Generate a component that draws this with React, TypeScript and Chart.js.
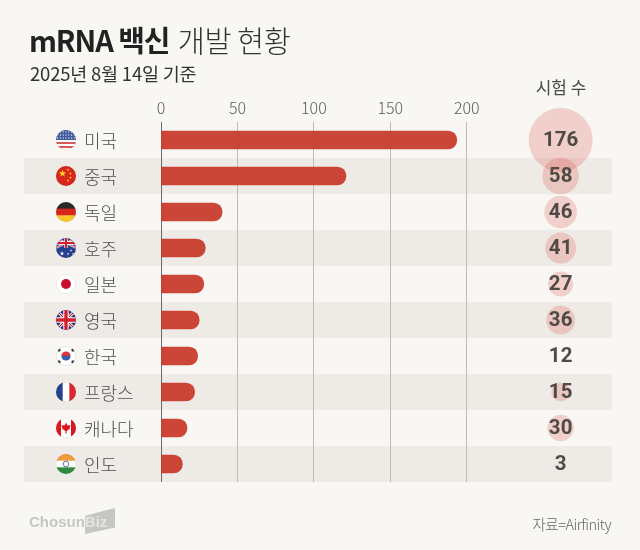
import { useEffect, useRef } from "react"
import Chart from "chart.js/auto"

const FONT = "'Noto Sans CJK KR', 'Noto Sans', sans-serif"
const BG = "#f8f7f3"
const BAND = "#eeebe7"
const BAR = "rgba(200,58,42,0.94)"
const BUBBLE = "rgba(222,80,70,0.24)"
const TEXT = "#4f4a46"

const countries = ["미국", "중국", "독일", "호주", "일본", "영국", "한국", "프랑스", "캐나다", "인도"]
const flags = ["us", "cn", "de", "au", "jp", "gb", "kr", "fr", "ca", "in"]
const barValues = [193.5, 121, 40, 29, 28, 25, 24, 22, 17, 14]
const trialCounts = [176, 58, 46, 41, 27, 36, 12, 15, 30, 3]

// the scale runs past 200 so the trial column can sit on it too
const AXIS_MAX = 295
const TRIAL_COLUMN = 261.4

function bubbleRadius(n: number) {
  return n <= 12 ? 0 : Math.sqrt(n) * 2.41
}

function stripesH(ctx: CanvasRenderingContext2D, x: number, y: number, r: number, cols: string[]) {
  const h = (2 * r) / cols.length
  cols.forEach((c, i) => {
    ctx.fillStyle = c
    ctx.fillRect(x - r, y - r + i * h, 2 * r, h + 0.5)
  })
}

function stripesV(ctx: CanvasRenderingContext2D, x: number, y: number, r: number, cols: string[]) {
  const w = (2 * r) / cols.length
  cols.forEach((c, i) => {
    ctx.fillStyle = c
    ctx.fillRect(x - r + i * w, y - r, w + 0.5, 2 * r)
  })
}

function dot(ctx: CanvasRenderingContext2D, x: number, y: number, r: number, col: string) {
  ctx.fillStyle = col
  ctx.beginPath()
  ctx.arc(x, y, r, 0, Math.PI * 2)
  ctx.fill()
}

function star(ctx: CanvasRenderingContext2D, x: number, y: number, r: number, col: string) {
  ctx.fillStyle = col
  ctx.beginPath()
  for (let i = 0; i < 10; i++) {
    const a = -Math.PI / 2 + (i * Math.PI) / 5
    const d = i % 2 === 0 ? r : r * 0.42
    ctx.lineTo(x + Math.cos(a) * d, y + Math.sin(a) * d)
  }
  ctx.closePath()
  ctx.fill()
}

function unionJack(ctx: CanvasRenderingContext2D, x0: number, y0: number, x1: number, y1: number, s: number) {
  const mx = (x0 + x1) / 2
  const my = (y0 + y1) / 2
  ctx.strokeStyle = "#fff"
  ctx.lineWidth = 3 * s
  ctx.beginPath()
  ctx.moveTo(x0, y0); ctx.lineTo(x1, y1)
  ctx.moveTo(x1, y0); ctx.lineTo(x0, y1)
  ctx.stroke()
  ctx.strokeStyle = "#d3202f"
  ctx.lineWidth = 1.2 * s
  ctx.stroke()
  ctx.strokeStyle = "#fff"
  ctx.lineWidth = 5.5 * s
  ctx.beginPath()
  ctx.moveTo(mx, y0); ctx.lineTo(mx, y1)
  ctx.moveTo(x0, my); ctx.lineTo(x1, my)
  ctx.stroke()
  ctx.strokeStyle = "#d3202f"
  ctx.lineWidth = 3.4 * s
  ctx.stroke()
}

function drawFlag(ctx: CanvasRenderingContext2D, code: string, x: number, y: number, r: number) {
  ctx.save()
  ctx.beginPath()
  ctx.arc(x, y, r, 0, Math.PI * 2)
  ctx.clip()
  ctx.fillStyle = "#fff"
  ctx.fillRect(x - r, y - r, 2 * r, 2 * r)

  if (code === "us") {
    stripesH(ctx, x, y, r, ["#3f5a9c", "#3f5a9c", "#3f5a9c", "#3f5a9c", "#3f5a9c", "#fff", "#d9595f", "#fff", "#d9595f", "#fff"])
    for (let i = 0; i < 3; i++) {
      for (let j = -3; j <= 3; j++) dot(ctx, x + j * 2.8, y - 8 + i * 3, 0.7, "#dfe4f2")
    }
  } else if (code === "cn") {
    ctx.fillStyle = "#d8261c"
    ctx.fillRect(x - r, y - r, 2 * r, 2 * r)
    star(ctx, x - 3.5, y - 2.5, 3.8, "#ffd21f")
    star(ctx, x + 2, y - 6, 1.4, "#ffd21f")
    star(ctx, x + 4.5, y - 2.5, 1.4, "#ffd21f")
    star(ctx, x + 4.5, y + 1.5, 1.4, "#ffd21f")
    star(ctx, x + 2, y + 4.5, 1.4, "#ffd21f")
  } else if (code === "de") {
    stripesH(ctx, x, y, r, ["#2a2a2a", "#d8261c", "#fbc62b"])
  } else if (code === "au") {
    ctx.fillStyle = "#27408f"
    ctx.fillRect(x - r, y - r, 2 * r, 2 * r)
    unionJack(ctx, x - r, y - r, x + r, y, 0.6)
    star(ctx, x - 4, y + 5.5, 2.2, "#fff")
    star(ctx, x + 5, y + 2.5, 1.2, "#fff")
    star(ctx, x + 2, y + 6, 1.2, "#fff")
    star(ctx, x + 7, y + 6, 1.2, "#fff")
  } else if (code === "jp") {
    dot(ctx, x, y, 5, "#c8102e")
  } else if (code === "gb") {
    ctx.fillStyle = "#27337a"
    ctx.fillRect(x - r, y - r, 2 * r, 2 * r)
    unionJack(ctx, x - r, y - r, x + r, y + r, 1)
  } else if (code === "kr") {
    ctx.fillStyle = "#d8343c"
    ctx.beginPath()
    ctx.arc(x, y, 4.6, Math.PI, 0)
    ctx.fill()
    ctx.fillStyle = "#3460b0"
    ctx.beginPath()
    ctx.arc(x, y, 4.6, 0, Math.PI)
    ctx.fill()
    ;[[-7, -6], [7, -6], [-7, 6], [7, 6]].forEach(([dx, dy]) => dot(ctx, x + dx, y + dy, 1.7, "#444"))
  } else if (code === "fr") {
    stripesV(ctx, x, y, r, ["#24408f", "#fff", "#e0262e"])
  } else if (code === "ca") {
    stripesV(ctx, x, y, r, ["#e0161f", "#fff", "#fff", "#e0161f"])
    ctx.fillStyle = "#e0161f"
    ctx.beginPath()
    ctx.moveTo(x, y - 5.5)
    ctx.lineTo(x + 1.5, y - 2.5)
    ctx.lineTo(x + 4.5, y - 3)
    ctx.lineTo(x + 3.5, y + 1)
    ctx.lineTo(x + 0.6, y + 3)
    ctx.lineTo(x + 0.6, y + 5.5)
    ctx.lineTo(x - 0.6, y + 5.5)
    ctx.lineTo(x - 0.6, y + 3)
    ctx.lineTo(x - 3.5, y + 1)
    ctx.lineTo(x - 4.5, y - 3)
    ctx.lineTo(x - 1.5, y - 2.5)
    ctx.closePath()
    ctx.fill()
  } else if (code === "in") {
    stripesH(ctx, x, y, r, ["#f39a3a", "#fff", "#2f8a3e"])
    ctx.strokeStyle = "#5566a8"
    ctx.lineWidth = 0.9
    ctx.beginPath()
    ctx.arc(x, y, 2.8, 0, Math.PI * 2)
    ctx.stroke()
  }
  ctx.restore()

  ctx.strokeStyle = "rgba(0,0,0,0.1)"
  ctx.lineWidth = 0.8
  ctx.beginPath()
  ctx.arc(x, y, r - 0.4, 0, Math.PI * 2)
  ctx.stroke()
}

const rowPlugin = {
  id: "rows",
  beforeDraw(chart: any) {
    const { ctx, chartArea, scales } = chart
    const half = Math.abs(scales.y.getPixelForValue(1) - scales.y.getPixelForValue(0)) / 2
    ctx.save()
    ctx.fillStyle = BAND
    countries.forEach((_, i) => {
      if (i % 2 === 0) return
      ctx.fillRect(24, scales.y.getPixelForValue(i) - half, chartArea.right - 24, half * 2)
    })
    ctx.restore()
  },
  afterDatasetsDraw(chart: any) {
    const { ctx, scales } = chart
    ctx.save()
    flags.forEach((code, i) => drawFlag(ctx, code, 66, scales.y.getPixelForValue(i), 10))
    ctx.fillStyle = TEXT
    ctx.font = `700 20.5px Roboto, ${FONT}`
    ctx.textAlign = "center"
    ctx.textBaseline = "middle"
    trialCounts.forEach((n, i) => {
      ctx.fillText(String(n), scales.x.getPixelForValue(TRIAL_COLUMN), scales.y.getPixelForValue(i) + 0.5)
    })
    ctx.restore()
  },
}

function VaccineChart() {
  const ref = useRef<HTMLCanvasElement>(null)

  useEffect(() => {
    if (!ref.current) return

    const chart = new Chart(ref.current, {
      type: "bar",
      data: {
        labels: countries,
        datasets: [
          {
            type: "bubble" as any,
            data: trialCounts.map((n, i) => ({ x: TRIAL_COLUMN, y: i, r: bubbleRadius(n) })),
            backgroundColor: BUBBLE,
            borderWidth: 0,
            clip: false as any,
            order: 1,
          },
          {
            data: barValues,
            backgroundColor: BAR,
            barThickness: 18,
            borderSkipped: false,
            borderRadius: { topLeft: 0, bottomLeft: 0, topRight: 9, bottomRight: 9 },
            order: 2,
          },
        ],
      },
      options: {
        animation: false,
        responsive: false,
        indexAxis: "y",
        layout: { autoPadding: false, padding: { left: 84, right: 28, top: 96, bottom: 68 } },
        plugins: { legend: { display: false }, tooltip: { enabled: false } },
        scales: {
          x: {
            position: "top",
            min: 0,
            max: AXIS_MAX,
            afterBuildTicks: (axis: any) => {
              axis.ticks = [0, 50, 100, 150, 200].map(value => ({ value }))
            },
            afterFit: (axis: any) => { axis.height = 26 },
            ticks: {
              color: "#5a5a5a",
              padding: 4,
              maxRotation: 0,
              font: { family: FONT, size: 16, weight: 300 },
            },
            grid: {
              tickLength: 0,
              color: (c: any) => (c.tick?.value === 0 ? "#6b6b6b" : "#bdbbb6"),
              lineWidth: 1,
            },
            border: { display: false },
          },
          y: {
            afterFit: (axis: any) => { axis.width = 77 },
            ticks: {
              color: "#505050",
              crossAlign: "far",
              padding: 0,
              labelOffset: 1,
              font: { family: FONT, size: 18, weight: 300 },
            },
            grid: { display: false },
            border: { display: false },
          },
        },
      },
      plugins: [rowPlugin],
    })

    return () => chart.destroy()
  }, [])

  return <canvas ref={ref} width={640} height={550} style={{ display: "block" }} />
}

function Label({ style, children }: { style: React.CSSProperties; children: React.ReactNode }) {
  return <div style={{ position: "absolute", whiteSpace: "nowrap", fontFamily: FONT, ...style }}>{children}</div>
}

export default function App() {
  return (
    <div style={{ position: "fixed", left: 0, top: 0, width: 640, height: 550, background: BG, overflow: "hidden" }}>
      <VaccineChart />
      <Label style={{ left: 29, top: 19, fontSize: 29, lineHeight: "40px", color: "#222" }}>
        <b style={{ letterSpacing: -1.1 }}>mRNA 백신</b>{" "}
        <span style={{ fontWeight: 300, fontSize: 29.5, letterSpacing: -0.5, color: "#333", marginLeft: 2 }}>개발 현황</span>
      </Label>
      <Label style={{ left: 30, top: 60, fontSize: 18.5, lineHeight: "26px", letterSpacing: -0.2, color: "#333" }}>
        2025년 8월 14일 기준
      </Label>
      <Label style={{ left: 501, width: 120, textAlign: "center", top: 74, fontSize: 17, lineHeight: "26px", color: "#4a4a4a" }}>
        시험 수
      </Label>
      <Label style={{ right: 29, top: 514, fontSize: 14.5, lineHeight: "20px", letterSpacing: -0.5, fontWeight: 300, color: "#666" }}>
        자료=Airfinity
      </Label>
      <div style={{ position: "absolute", left: 85, top: 508, width: 30, height: 26, background: "#c6c7c2", clipPath: "polygon(0 30%, 100% 0, 100% 75%, 0 100%)" }} />
      <Label style={{ left: 29, top: 511, fontSize: 15, lineHeight: "22px", fontWeight: 700, color: "#c6c7c2", fontFamily: "'Liberation Sans', sans-serif" }}>
        Chosun<span style={{ color: "#e4e4e0" }}>Biz</span>
      </Label>
    </div>
  )
}
